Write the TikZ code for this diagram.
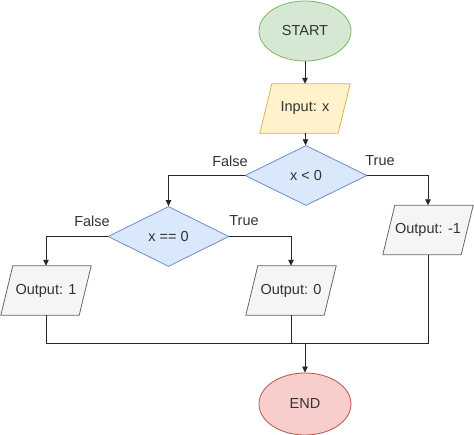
\documentclass[tikz,border=0pt]{standalone}
\usepackage{fontspec}
\setmainfont{Liberation Sans}
\usetikzlibrary{shapes.geometric,arrows.meta}
\definecolor{gfill}{HTML}{D5E8D4}\definecolor{gline}{HTML}{82B366}
\definecolor{yfill}{HTML}{FFF2CC}\definecolor{yline}{HTML}{D6B656}
\definecolor{bfill}{HTML}{DAE8FC}\definecolor{bline}{HTML}{6C8EBF}
\definecolor{sfill}{HTML}{F5F5F5}\definecolor{sline}{HTML}{666666}
\definecolor{rfill}{HTML}{F8CECC}\definecolor{rline}{HTML}{B85450}
\definecolor{txt}{HTML}{333333}
\begin{document}
\begin{tikzpicture}[x=1pt,y=-1pt,
  font=\fontsize{14.5}{16}\selectfont, text=txt,
  every node/.style={inner sep=0pt},
  term/.style={ellipse, draw, line width=0.8pt, minimum width=92pt, minimum height=60pt},
  dec/.style={diamond, draw=bline, fill=bfill, line width=0.8pt, minimum width=#1, minimum height=60pt, aspect=2},
  para/.style={minimum width=90pt, minimum height=49pt},
  conn/.style={draw=black!85, line width=0.8pt},
  arr/.style={conn, -{Triangle[length=6pt,width=5.5pt]}},
  lbl/.style={text=txt}
]
\useasboundingbox (0,0) rectangle (474,435);
\newcommand{\paradraw}[3]{%
  \draw[draw=#3, fill=#2, line width=0.8pt]
    ([xshift=12pt]#1.north west) -- (#1.north east) -- ([xshift=-12pt]#1.south east) -- (#1.south west) -- cycle;}

\node[term, fill=gfill, draw=gline] (start) at (305,31) {START};

\node[para] (inp) at (305,108.5) {};
\paradraw{inp}{yfill}{yline}
\node at (inp) {Input: x};

\node[dec=122pt] (d1) at (306,175.5) {x < 0};
\node[dec=121pt] (d2) at (168.5,236.5) {x == 0};

\node[para] (om1) at (428,230) {};
\paradraw{om1}{sfill}{sline}
\node at (om1) {Output: -1};

\node[para] (o1) at (46,290.5) {};
\paradraw{o1}{sfill}{sline}
\node at (o1) {Output: 1};

\node[para] (o0) at (291,290.5) {};
\paradraw{o0}{sfill}{sline}
\node at (o0) {Output: 0};

\node[term, fill=rfill, draw=rline, minimum height=62pt] (end) at (305,404) {END};

\coordinate (j) at (305,343);

\draw[arr] (start) -- (inp);
\draw[arr] (inp) -- (d1);
\draw[arr] (d1.west) -| (d2.north);
\draw[arr] (d1.east) -| (om1.north);
\draw[arr] (d2.west) -| (o1.north);
\draw[arr] (d2.east) -| (o0.north);
\draw[conn] (o1.south) |- (j);
\draw[conn] (o0.south) |- (j);
\draw[conn] (om1.south) |- (j);
\draw[arr] (j) -- (end);

\node[lbl] (lf1) at (230,161) {False};
\node[lbl] (lt1) at (380,161) {True};
\node[lbl] (lf2) at (92,221) {False};
\node[lbl] (lt2) at (244,221) {True};
\end{tikzpicture}
\end{document}
